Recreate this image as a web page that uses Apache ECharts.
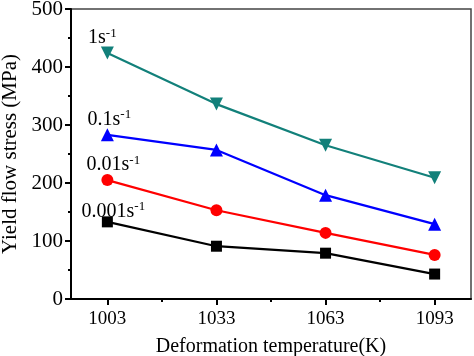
<!DOCTYPE html>
<html><head><meta charset="utf-8">
<script src="https://cdn.jsdelivr.net/npm/echarts@6/dist/echarts.min.js"></script>
<style>html,body{margin:0;padding:0;background:#fff}#c{width:474px;height:356px}</style>
</head><body><div id="c"></div>
<script>
var temps = [1003, 1033, 1063, 1093];
var minorTemps = [1018, 1048, 1078];
var rate1 = [424, 336, 265, 209];
var rate01 = [283, 257, 179, 129];
var rate001 = [205, 153, 114, 76];
var rate0001 = [133, 91, 79, 43];
var rateLabels = ['1', '0.1', '0.01', '0.001'];

var F = '"Liberation Serif","Times New Roman",serif';
function pairs(v){ return temps.map(function(t,i){ return [t, v[i]]; }); }
function lab(txt, off){
  return {
    show: true, position: 'top', distance: 0, offset: off,
    formatter: function(p){ return p.dataIndex === 0 ? '{a|' + txt + 's}{b|-1}' : ''; },
    rich: {
      a: {fontFamily: F, fontSize: 20, color: '#000', lineHeight: 22},
      b: {fontFamily: F, fontSize: 13, color: '#000', verticalAlign: 'top', lineHeight: 22}
    }
  };
}
function ser(name, v, color, symbol, rot, off, size){
  return {
    name: name, type: 'line', data: pairs(v), symbol: symbol, symbolSize: size, symbolRotate: rot,
    lineStyle: {color: color, width: 2.2}, itemStyle: {color: color},
    label: lab(name, off), z: 3
  };
}
var chart = echarts.init(document.getElementById('c'));
chart.setOption({
  animation: false,
  grid: {left: 71, top: 9, right: 3, bottom: 57, show: true, borderColor: '#444', borderWidth: 1.5,
    containLabel: false, outerBoundsMode: 'none'},
  xAxis: [{
    type: 'value', min: 993, max: 1103,
    name: 'Deformation temperature(K)', nameLocation: 'middle', nameGap: 38,
    nameTextStyle: {fontFamily: F, fontSize: 20, color: '#000'},
    axisLine: {lineStyle: {color: '#000', width: 2}},
    axisTick: {show: true, inside: false, length: 6, lineStyle: {color: '#000', width: 2}, customValues: temps},
    axisLabel: {fontFamily: F, fontSize: 19, color: '#000', margin: 11, customValues: temps,
      formatter: function(v){ return String(v); }},
    splitLine: {show: false}
  }, {
    type: 'value', min: 993, max: 1103, position: 'bottom',
    axisLine: {show: false},
    axisTick: {show: true, inside: false, length: 3, lineStyle: {color: '#000', width: 2}, customValues: minorTemps},
    axisLabel: {show: false}, splitLine: {show: false}
  }],
  yAxis: {
    type: 'value', min: 0, max: 500, interval: 100,
    name: 'Yield flow stress (MPa)', nameLocation: 'middle', nameGap: 48,
    nameTextStyle: {fontFamily: F, fontSize: 21, color: '#000'},
    axisLine: {show: true, lineStyle: {color: '#000', width: 2}},
    axisTick: {show: true, inside: false, length: 6, lineStyle: {color: '#000', width: 2}},
    minorTick: {show: true, splitNumber: 2, length: 3, lineStyle: {color: '#000', width: 2}},
    axisLabel: {fontFamily: F, fontSize: 21, color: '#000', margin: 8},
    splitLine: {show: false}
  },
  series: [
    ser(rateLabels[0], rate1, '#12807a', 'triangle', 180, [-5, 2], 13),
    ser(rateLabels[1], rate01, '#0000ff', 'triangle', 0, [2, 2], 13),
    ser(rateLabels[2], rate001, '#ff0000', 'circle', 0, [6, 2], 12),
    ser(rateLabels[3], rate0001, '#000000', 'rect', 0, [6, 6], 11)
  ]
});
</script></body></html>
